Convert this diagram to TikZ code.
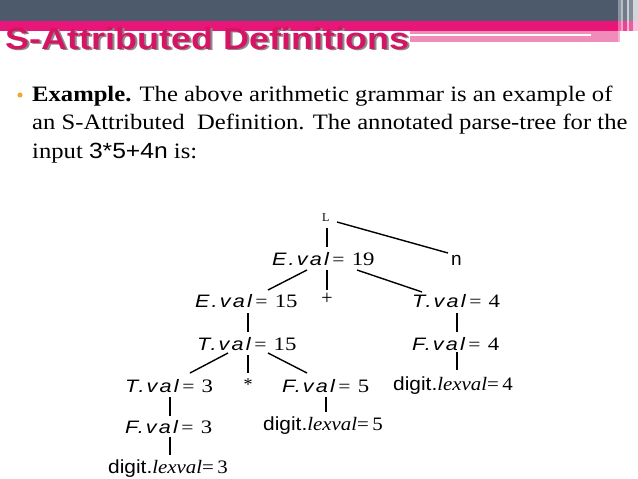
\documentclass[tikz,border=0pt]{standalone}
\usepackage{fontspec}
\usepackage{graphicx}
\setmainfont{Liberation Serif}
\setsansfont{Liberation Sans}
\newfontfamily\attrfont[LetterSpace=10]{Liberation Sans}
\definecolor{darkbar}{RGB}{77,90,108}
\definecolor{pinkbar}{RGB}{232,22,120}
\definecolor{lightpink}{RGB}{240,140,185}
\definecolor{titlepink}{RGB}{214,20,100}
\definecolor{bulletc}{RGB}{240,170,50}
\newcommand{\sx}[2]{\scalebox{#1}[1]{#2}}
\newcommand{\av}[2]{\sx{1.2}{{\attrfont\itshape #1.val}\,=\,\,{\fontsize{19}{20}\selectfont #2}}}
\newcommand{\dg}[1]{\sx{1.1}{{\sffamily digit.}\textit{lexval}=\,#1}}
\tikzset{
  edge/.style={line width=1.4pt, black},
  tlabel/.style={anchor=base west, inner sep=0pt, font=\fontsize{18}{20}\selectfont},
  dlabel/.style={anchor=base west, inner sep=0pt, font=\fontsize{19}{21}\selectfont},
  body/.style={anchor=base west, inner sep=0pt, font=\fontsize{22}{25}\selectfont}
}
\begin{document}
\begin{tikzpicture}[x=1pt,y=-1pt]
\useasboundingbox (0,0) rectangle (638,479);
\fill[white] (0,0) rectangle (638,479);
% header
\fill[darkbar] (0,0) rectangle (638,21);
\fill[pinkbar] (0,21) rectangle (638,31);
\fill[lightpink] (410,31) rectangle (620,42);
\fill[white] (410,33.5) rectangle (591,35.5);
\fill[white,opacity=0.35] (618,0) rectangle (621,43);
\fill[white,opacity=0.6] (621,0) rectangle (623,43);
\fill[white,opacity=0.2] (623,0) rectangle (627,43);
\fill[white,opacity=0.7] (627,0) rectangle (629,43);
\fill[white,opacity=0.3] (629,0) rectangle (633,43);
\fill[white,opacity=0.75] (633,0) rectangle (638,43);
% title
\node[anchor=base west, inner sep=0pt, text=black!45] at (7,50.5)
  {\sx{1.18}{\fontsize{30.5}{32}\selectfont\sffamily\bfseries S-Attributed Definitions}};
\node[anchor=base west, inner sep=0pt, text=titlepink] (title) at (5,49)
  {\sx{1.18}{\fontsize{30.5}{32}\selectfont\sffamily\bfseries S-Attributed Definitions}};
% body
\fill[bulletc] (20,95) circle (2.6);
\node[body] (l1) at (32,101) {\sx{1.12}{\textbf{Example.} The above arithmetic grammar is an example of}};
\node[body] (l2) at (32,129.5) {\sx{1.12}{an S-Attributed\ \ Definition. The annotated parse-tree for the}};
\node[body] (l3) at (32,158) {\sx{1.12}{input {\sffamily 3*5+4n} is:}};
% tree nodes
\node[anchor=base west, inner sep=0pt, font=\fontsize{12}{14}\selectfont] (L) at (322,221) {L};
\node[tlabel] (E19) at (272,265) {\av{E}{19}};
\node[anchor=base west, inner sep=0pt, font=\fontsize{19}{21}\selectfont\sffamily] (n) at (451,265) {n};
\node[tlabel] (E15) at (195,307) {\av{E}{15}};
\node[anchor=base, inner sep=0pt, font=\fontsize{20}{22}\selectfont] (plus) at (327,304) {+};
\node[tlabel] (T4) at (412,307) {\av{T}{4}};
\node[tlabel] (T15) at (197,350) {\av{T}{15}};
\node[tlabel] (F4) at (412,350) {\av{F}{4}};
\node[tlabel] (T3) at (125,392) {\av{T}{3}};
\node[anchor=base, inner sep=0pt, font=\fontsize{18}{20}\selectfont] (star) at (248,390) {*};
\node[tlabel] (F5) at (282,392) {\av{F}{5}};
\node[dlabel] (D4) at (393,390) {\dg{4}};
\node[tlabel] (F3) at (125,433) {\av{F}{3}};
\node[dlabel] (D5) at (263,430) {\dg{5}};
\node[dlabel] (D3) at (108,473) {\dg{3}};
% connector end points
\coordinate (L-a) at (327,228);   \coordinate (E19-a) at (327,247);
\coordinate (L-b) at (337,222);   \coordinate (n-a) at (448,253);
\coordinate (E19-b) at (307,270); \coordinate (E15-a) at (268,290);
\coordinate (E19-c) at (327,270); \coordinate (plus-a) at (327,290);
\coordinate (E19-d) at (357,270); \coordinate (T4-a) at (422,292);
\coordinate (E15-b) at (248,313); \coordinate (T15-a) at (248,332);
\coordinate (T4-b) at (457,313);  \coordinate (F4-a) at (457,332);
\coordinate (T15-b) at (228,353); \coordinate (T3-a) at (190,373);
\coordinate (T15-c) at (248,355); \coordinate (star-a) at (248,373);
\coordinate (T15-d) at (268,353); \coordinate (F5-a) at (307,373);
\coordinate (F4-b) at (457,352);  \coordinate (D4-a) at (457,370);
\coordinate (T3-b) at (170,397);  \coordinate (F3-a) at (170,416);
\coordinate (F5-b) at (326,397);  \coordinate (D5-a) at (326,412);
\coordinate (F3-b) at (170,437);  \coordinate (D3-a) at (170,455);
% connectors
\draw[edge] (L-a) -- (E19-a);
\draw[edge] (L-b) -- (n-a);
\draw[edge] (E19-b) -- (E15-a);
\draw[edge] (E19-c) -- (plus-a);
\draw[edge] (E19-d) -- (T4-a);
\draw[edge] (E15-b) -- (T15-a);
\draw[edge] (T4-b) -- (F4-a);
\draw[edge] (T15-b) -- (T3-a);
\draw[edge] (T15-c) -- (star-a);
\draw[edge] (T15-d) -- (F5-a);
\draw[edge] (F4-b) -- (D4-a);
\draw[edge] (T3-b) -- (F3-a);
\draw[edge] (F5-b) -- (D5-a);
\draw[edge] (F3-b) -- (D3-a);
\end{tikzpicture}
\end{document}
